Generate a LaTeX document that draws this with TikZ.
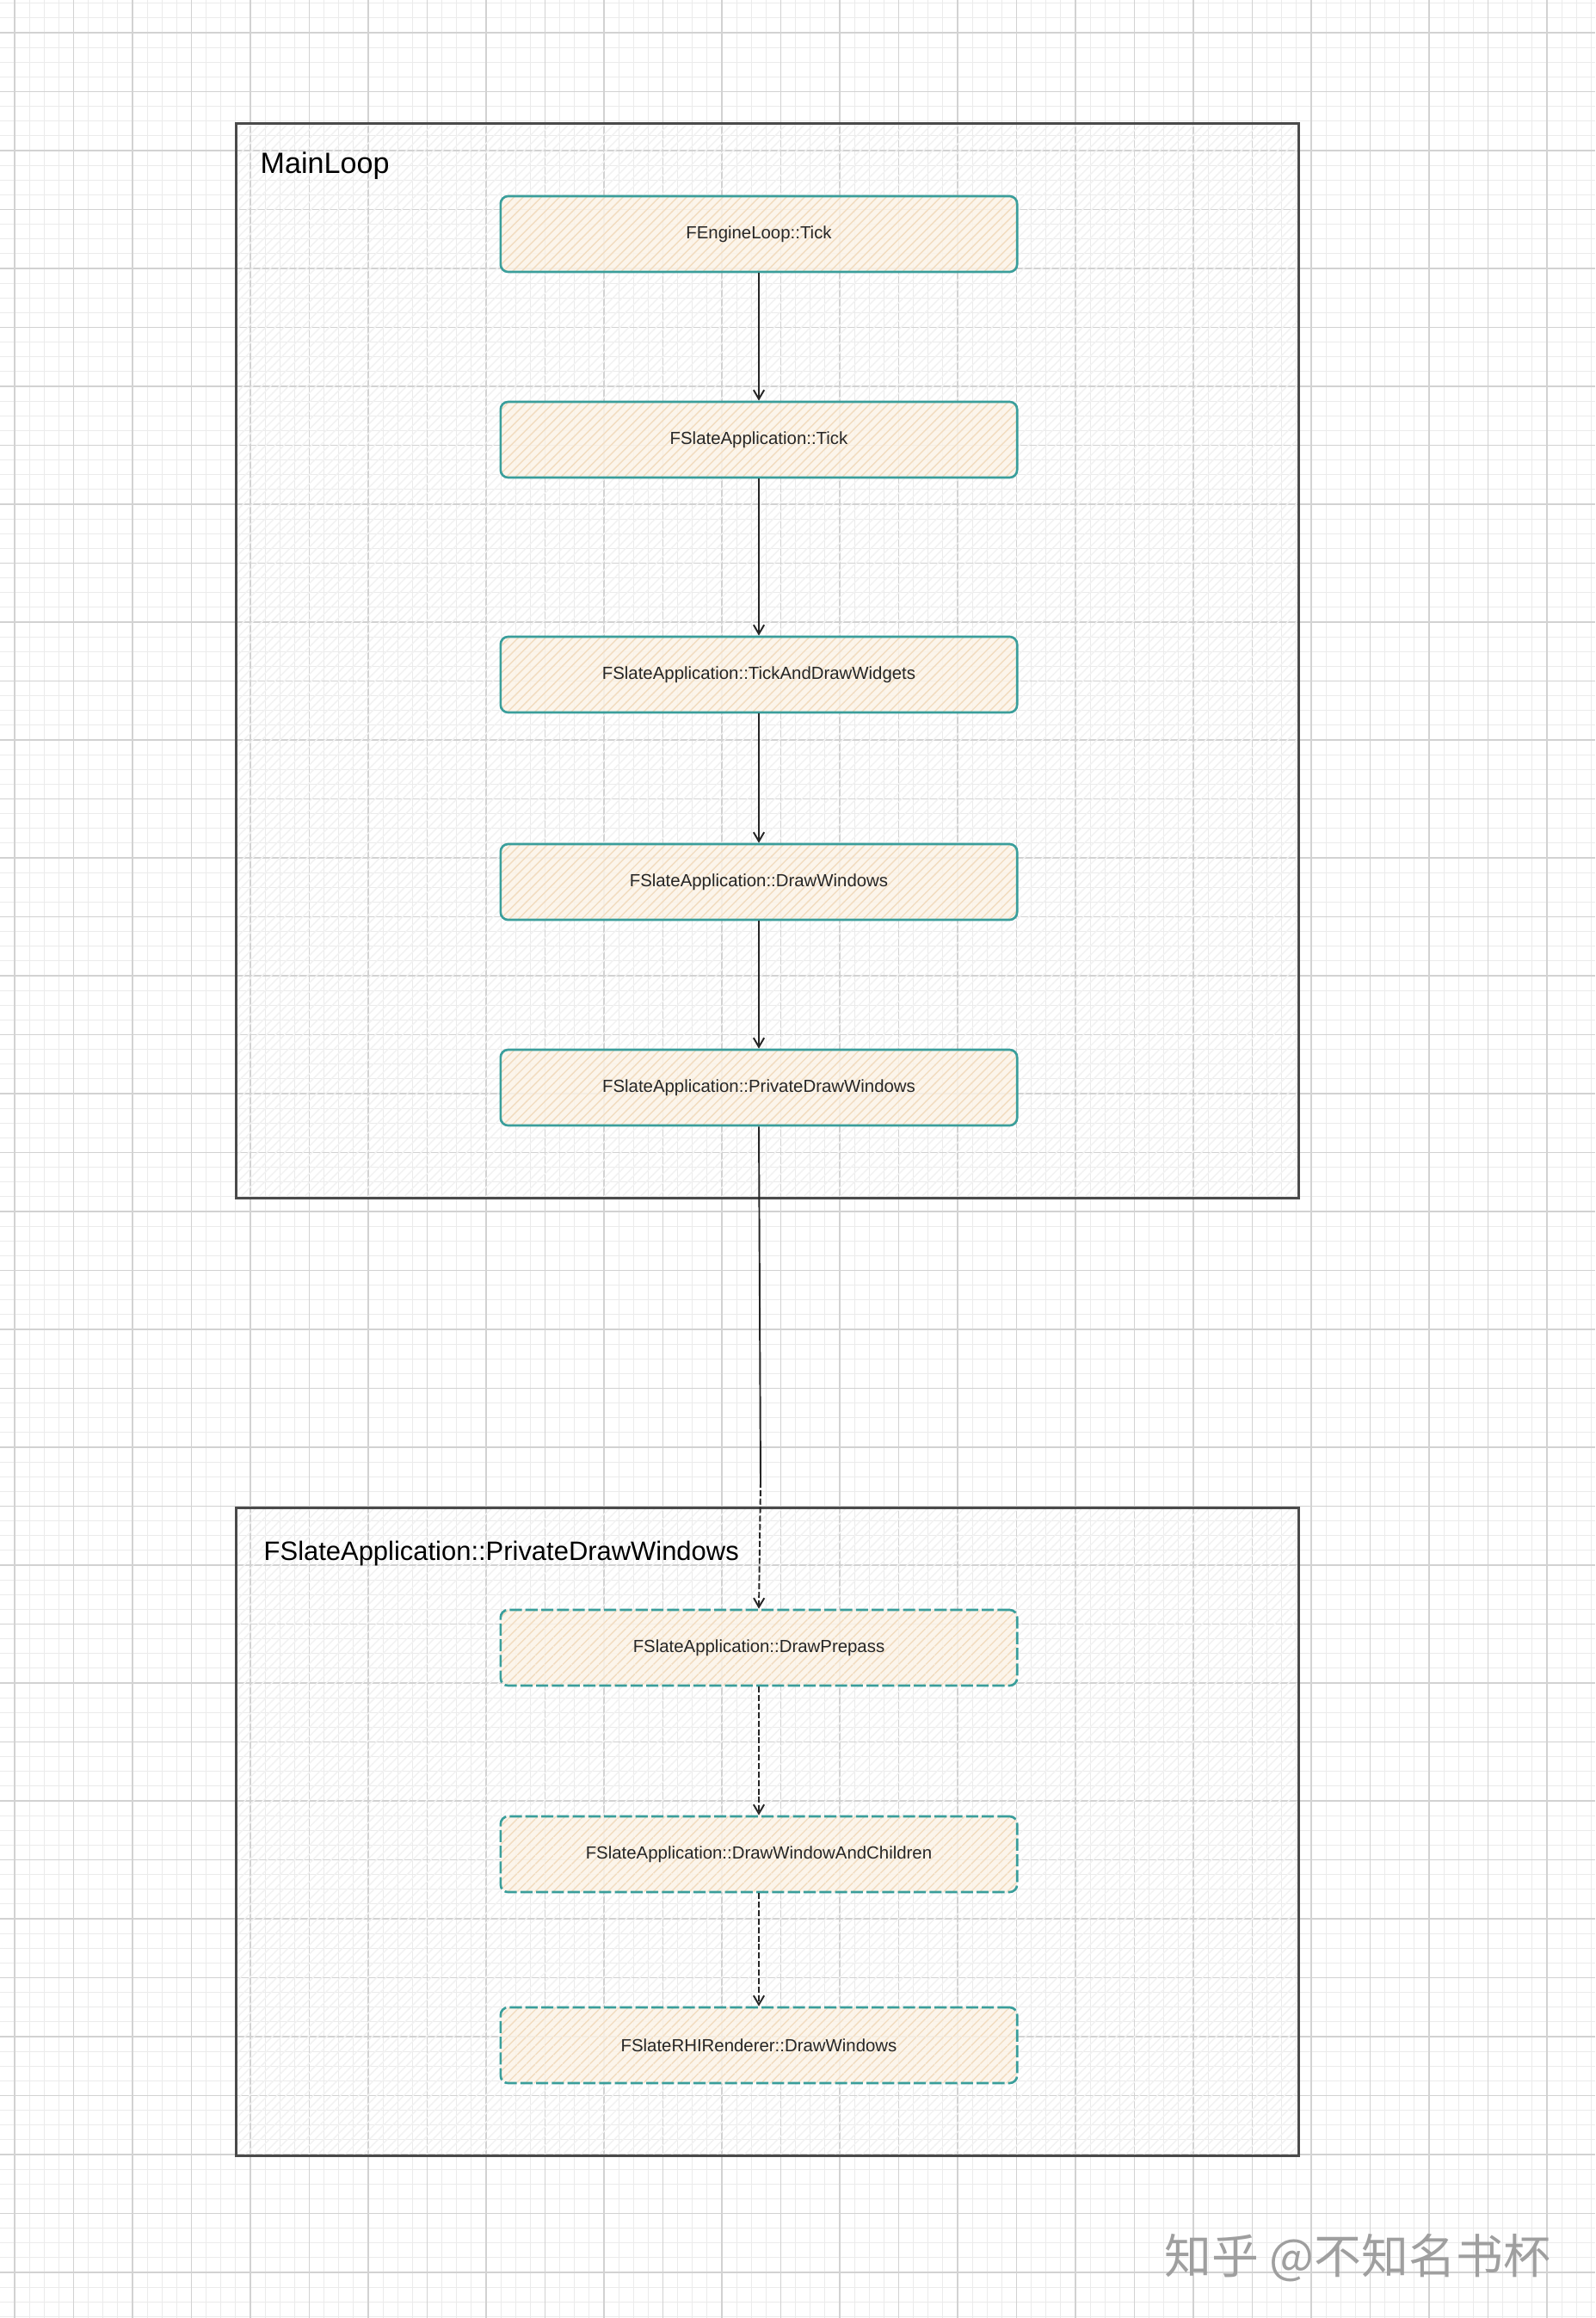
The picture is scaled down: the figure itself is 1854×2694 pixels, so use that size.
\documentclass[tikz,border=0pt]{standalone}
\usepackage{fontspec}
\setmainfont{Liberation Sans}
\newfontfamily\cjk{Noto Sans CJK SC}
\usetikzlibrary{arrows.meta,patterns}
\definecolor{gmajor}{HTML}{D2D2D2}
\definecolor{gminor}{HTML}{EBEBEB}
\definecolor{tealb}{HTML}{3A9E9B}
\definecolor{beige}{HTML}{FCF4E8}
\definecolor{hatch}{HTML}{F2DCC0}
\definecolor{framec}{HTML}{4A4A4A}
\begin{document}
\begin{tikzpicture}[x=0.01cm,y=-0.01cm,
  box/.style={draw=tealb, line width=0.75pt, rounded corners=2.5pt,
    preaction={fill=beige, fill opacity=0.85},
    preaction={pattern=north east lines, pattern color=hatch},
    minimum width=6cm, minimum height=0.88cm, font=\fontsize{5.8}{7}\selectfont, text=black!85, inner sep=0pt},
  dbox/.style={box, dash pattern=on 4pt off 1.2pt},
  frame/.style={draw=framec, line width=0.8pt, preaction={pattern=north east lines, pattern color=gray!10},
    minimum width=12.34cm, inner sep=0pt},
  title/.style={anchor=west, inner sep=0pt, text=black},
  arr/.style={draw=black!85, line width=0.55pt, -{Straight Barb[length=3pt,width=3.5pt]}},
  arrline/.style={draw=black!85, line width=0.55pt},
  gridmin/.style={draw=gminor, line width=0.3pt},
  gridmaj/.style={draw=gmajor, line width=0.45pt}
]
\useasboundingbox (0,0) rectangle (1854,2694);
\fill[white] (0,0) rectangle (1854,2694);
% grid
\foreach \i in {0,...,109} \draw[gridmin] ({-0.125+17.125*\i},0) -- ++(0,2694);
\foreach \i in {0,...,158} \draw[gridmin] (0,{-13.375+17.125*\i}) -- ++(1854,0);
\foreach \i in {0,...,26} \draw[gridmaj] ({17+68.5*\i},0) -- ++(0,2694);
\foreach \i in {0,...,38} \draw[gridmaj] (0,{38+68.5*\i}) -- ++(1854,0);
% frames
\node[frame, minimum height=12.48cm] (f1) at (892,768) {};
\node[frame, minimum height=7.52cm] (f2) at (892,2129) {};
\node[title, font=\fontsize{9.7}{11}\selectfont] (t1) at (302,193) {MainLoop};
\node[title, font=\fontsize{8.8}{10}\selectfont] (t2) at (306,1805) {FSlateApplication::PrivateDrawWindows};
% boxes
\node[box] (n1) at (882,272) {FEngineLoop::Tick};
\node[box] (n2) at (882,511) {FSlateApplication::Tick};
\node[box] (n3) at (882,784) {FSlateApplication::TickAndDrawWidgets};
\node[box] (n4) at (882,1025) {FSlateApplication::DrawWindows};
\node[box] (n5) at (882,1264) {FSlateApplication::PrivateDrawWindows};
\node[dbox] (n6) at (882,1915) {FSlateApplication::DrawPrepass};
\node[dbox] (n7) at (882,2155) {FSlateApplication::DrawWindowAndChildren};
\node[dbox] (n8) at (882,2377) {FSlateRHIRenderer::DrawWindows};
% arrows
\draw[arr] (n1.south) -- (n2.north);
\draw[arr] (n2.south) -- (n3.north);
\draw[arr] (n3.south) -- (n4.north);
\draw[arr] (n4.south) -- (n5.north);
\coordinate (mid) at (884,1722);
\draw[arrline] (n5.south) -- (mid);
\draw[arr, dash pattern=on 2pt off 0.8pt] (mid) -- (n6.north);
\draw[arr, dash pattern=on 2pt off 0.8pt] (n6.south) -- (n7.north);
\draw[arr, dash pattern=on 2pt off 0.8pt] (n7.south) -- (n8.north);
% watermark
\node[anchor=west, inner sep=0pt, text=gray!75, font=\cjk\fontsize{15.6}{18}\selectfont] (wm) at (1353,2624) {知乎 @不知名书杯};
\end{tikzpicture}
\end{document}
